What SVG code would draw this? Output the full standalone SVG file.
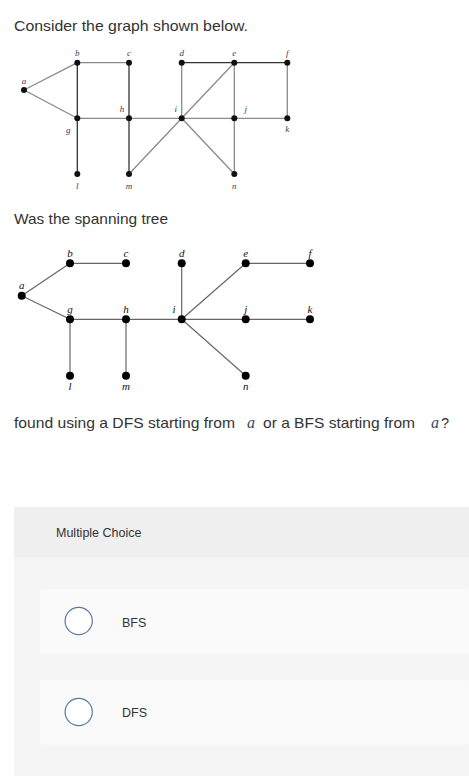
<svg xmlns="http://www.w3.org/2000/svg" width="469" height="776" viewBox="0 0 469 776">
<style>
.t{font-family:"Liberation Sans",Arial,sans-serif;font-size:14.5px;fill:#333}
.lab{font-family:"Liberation Serif","Times New Roman",serif;font-style:italic;font-size:9px;fill:#3a3a50;text-anchor:middle}
.lab2{font-family:"Liberation Serif","Times New Roman",serif;font-style:italic;font-size:11px;fill:#111;text-anchor:middle}
.e1{stroke:#8a8a8a;stroke-width:1.3;fill:none}
.e1d{stroke:#333;stroke-width:1.3;fill:none}
.e2{stroke:#666;stroke-width:1.2;fill:none}
.n1{fill:#111}
.n2{fill:#000}
.m{font-family:"Liberation Serif","Times New Roman",serif;font-style:italic;font-size:16px;fill:#2d4a6a}
.opt{font-family:"Liberation Sans",Arial,sans-serif;font-size:12.5px;fill:#333}
.radio{fill:#fff;stroke:#5b7a99;stroke-width:1.2}
</style>
<rect width="469" height="776" fill="#fff"/>
<text class="t" x="14" y="31" textLength="234" lengthAdjust="spacingAndGlyphs">Consider the graph shown below.</text>

<g id="graph1">
<g id="edges1">
<line class="e1" x1="24" y1="90" x2="77.3" y2="62.7"/>
<line class="e1" x1="24" y1="90" x2="77.3" y2="118.3"/>
<line class="e1" x1="77.3" y1="62.7" x2="129" y2="62.7"/>
<line class="e1d" x1="77.3" y1="62.7" x2="77.3" y2="118.3"/>
<line class="e1d" x1="129" y1="62.7" x2="129" y2="118.3"/>
<line class="e1" x1="77.3" y1="118.3" x2="287.3" y2="118.3"/>
<line class="e1d" x1="181.7" y1="62.7" x2="287.3" y2="62.7"/>
<line class="e1" x1="287.3" y1="62.7" x2="287.3" y2="118.3"/>
<line class="e1" x1="181.7" y1="62.7" x2="181.7" y2="118.3"/>
<line class="e1" x1="234.3" y1="62.7" x2="181.7" y2="118.3"/>
<line class="e1" x1="234.3" y1="62.7" x2="234.3" y2="174"/>
<line class="e1d" x1="77.3" y1="118.3" x2="77.3" y2="174"/>
<line class="e1d" x1="129" y1="118.3" x2="129" y2="174"/>
<line class="e1" x1="129" y1="174" x2="181.7" y2="118.3"/>
<line class="e1" x1="181.7" y1="118.3" x2="234.3" y2="174"/>
</g>
<g id="n1-a"><circle class="n1" cx="24" cy="90" r="3"/><text class="lab" x="24" y="84">a</text></g>
<g id="n1-b"><circle class="n1" cx="77.3" cy="62.7" r="3"/><text class="lab" x="77.3" y="56">b</text></g>
<g id="n1-c"><circle class="n1" cx="129" cy="62.7" r="3"/><text class="lab" x="129" y="56">c</text></g>
<g id="n1-d"><circle class="n1" cx="181.7" cy="62.7" r="3"/><text class="lab" x="181.7" y="56">d</text></g>
<g id="n1-e"><circle class="n1" cx="234.3" cy="62.7" r="3"/><text class="lab" x="234.3" y="56">e</text></g>
<g id="n1-f"><circle class="n1" cx="287.3" cy="62.7" r="3"/><text class="lab" x="287.3" y="56">f</text></g>
<g id="n1-g"><circle class="n1" cx="77.3" cy="118.3" r="3"/><text class="lab" x="68.3" y="133">g</text></g>
<g id="n1-h"><circle class="n1" cx="129" cy="118.3" r="3"/><text class="lab" x="122" y="112">h</text></g>
<g id="n1-i"><circle class="n1" cx="181.7" cy="118.3" r="3"/><text class="lab" x="175.7" y="112">i</text></g>
<g id="n1-j"><circle class="n1" cx="234.3" cy="118.3" r="3"/><text class="lab" x="245.7" y="112">j</text></g>
<g id="n1-k"><circle class="n1" cx="287.3" cy="118.3" r="3"/><text class="lab" x="287.3" y="132">k</text></g>
<g id="n1-l"><circle class="n1" cx="77.3" cy="174" r="3"/><text class="lab" x="77.3" y="189">l</text></g>
<g id="n1-m"><circle class="n1" cx="129" cy="174" r="3"/><text class="lab" x="129" y="189">m</text></g>
<g id="n1-n"><circle class="n1" cx="234.3" cy="174" r="3"/><text class="lab" x="234.3" y="189">n</text></g>
</g>

<text class="t" x="14" y="224.3" textLength="154" lengthAdjust="spacingAndGlyphs">Was the spanning tree</text>

<g id="graph2">
<g id="edges2">
<line class="e2" x1="21.7" y1="295.7" x2="70" y2="263.3"/>
<line class="e2" x1="21.7" y1="295.7" x2="70" y2="319.3"/>
<line class="e2" x1="70" y1="263.3" x2="126" y2="263.3"/>
<line class="e2" x1="70" y1="319.3" x2="310" y2="319.3"/>
<line class="e2" x1="70" y1="319.3" x2="70" y2="375.7"/>
<line class="e2" x1="126" y1="319.3" x2="126" y2="375.7"/>
<line class="e2" x1="181.7" y1="319.3" x2="181.7" y2="263.3"/>
<line class="e2" x1="181.7" y1="319.3" x2="245.7" y2="263.3"/>
<line class="e2" x1="245.7" y1="263.3" x2="310" y2="263.3"/>
<line class="e2" x1="181.7" y1="319.3" x2="245.7" y2="375.7"/>
</g>
<g id="n2-a"><circle class="n2" cx="21.7" cy="295.7" r="4"/><text class="lab2" x="21.7" y="289">a</text></g>
<g id="n2-b"><circle class="n2" cx="70" cy="263.3" r="4"/><text class="lab2" x="70" y="257">b</text></g>
<g id="n2-c"><circle class="n2" cx="126" cy="263.3" r="4"/><text class="lab2" x="126" y="257">c</text></g>
<g id="n2-d"><circle class="n2" cx="181.7" cy="263.3" r="4"/><text class="lab2" x="181.7" y="257">d</text></g>
<g id="n2-e"><circle class="n2" cx="245.7" cy="263.3" r="4"/><text class="lab2" x="245.7" y="257">e</text></g>
<g id="n2-f"><circle class="n2" cx="310" cy="263.3" r="4"/><text class="lab2" x="310" y="257">f</text></g>
<g id="n2-g"><circle class="n2" cx="70" cy="319.3" r="4"/><text class="lab2" x="70" y="313">g</text></g>
<g id="n2-h"><circle class="n2" cx="126" cy="319.3" r="4"/><text class="lab2" x="126" y="313">h</text></g>
<g id="n2-i"><circle class="n2" cx="181.7" cy="319.3" r="4"/><text class="lab2" x="174" y="313">i</text></g>
<g id="n2-j"><circle class="n2" cx="245.7" cy="319.3" r="4"/><text class="lab2" x="245.7" y="313">j</text></g>
<g id="n2-k"><circle class="n2" cx="310" cy="319.3" r="4"/><text class="lab2" x="310" y="313">k</text></g>
<g id="n2-l"><circle class="n2" cx="70" cy="375.7" r="4"/><text class="lab2" x="70" y="390">l</text></g>
<g id="n2-m"><circle class="n2" cx="126" cy="375.7" r="4"/><text class="lab2" x="126" y="390">m</text></g>
<g id="n2-n"><circle class="n2" cx="245.7" cy="375.7" r="4"/><text class="lab2" x="245.7" y="390">n</text></g>
</g>

<text class="t" x="14" y="427.5" textLength="221" lengthAdjust="spacingAndGlyphs">found using a DFS starting from</text>
<text class="m" x="251" y="427.5" text-anchor="middle">a</text>
<text class="t" x="263" y="427.5" textLength="152" lengthAdjust="spacingAndGlyphs">or a BFS starting from</text>
<text class="m" x="435" y="427.5" text-anchor="middle">a</text>
<text class="t" x="441" y="427.5">?</text>

<g id="mc-panel">
<rect x="14" y="507" width="455" height="269" fill="#f5f5f5"/>
<rect x="14" y="507" width="455" height="50" fill="#efefef"/>
<text class="opt" x="56" y="536.5">Multiple Choice</text>
</g>
<g id="opt-bfs">
<rect x="40" y="589" width="429" height="65.5" rx="2" fill="#fafafa"/>
<circle class="radio" cx="78.7" cy="621" r="13.6"/>
<text class="opt" x="122" y="626.5">BFS</text>
</g>
<g id="opt-dfs">
<rect x="40" y="680" width="429" height="64.5" rx="2" fill="#fafafa"/>
<circle class="radio" cx="78.7" cy="712" r="13.6"/>
<text class="opt" x="122" y="716.5">DFS</text>
</g>
</svg>
